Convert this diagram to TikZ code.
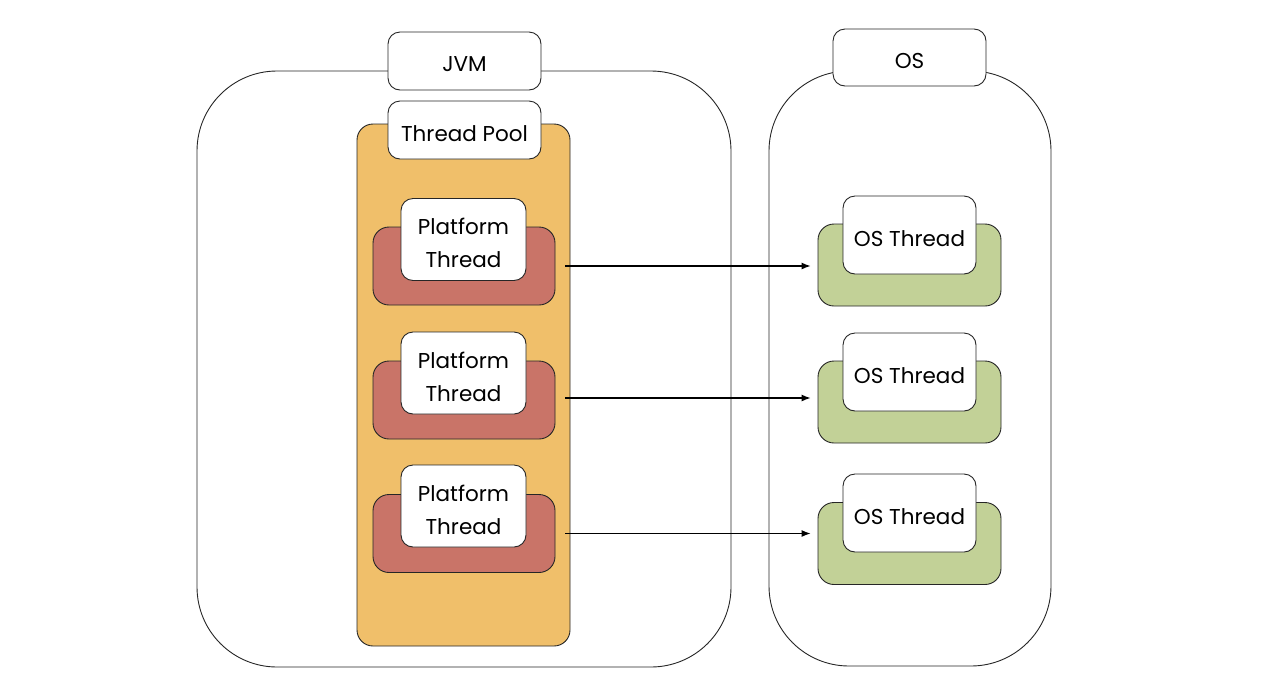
\documentclass[tikz,border=0pt]{standalone}
\usepackage{fontspec}
\setmainfont{Poppins}
\usetikzlibrary{arrows.meta}
\definecolor{poolc}{HTML}{F0BF6A}
\definecolor{redc}{HTML}{C97468}
\definecolor{greenc}{HTML}{C2D197}
\begin{document}
\begin{tikzpicture}[x=1pt,y=-1pt,
  base/.style={draw=black!85, line width=0.9pt, inner sep=0pt},
  bigbox/.style={base, fill=white, rounded corners=80pt},
  labelbox/.style={base, fill=white, rounded corners=12pt},
  poolbox/.style={base, fill=poolc, rounded corners=16pt},
  redbox/.style={base, fill=redc, rounded corners=16pt, minimum width=182pt, minimum height=78pt},
  greenbox/.style={base, fill=greenc, rounded corners=16pt, minimum width=183pt, minimum height=82pt},
  ptbox/.style={labelbox, minimum width=125pt, minimum height=82pt},
  osbox/.style={labelbox, minimum width=133pt, minimum height=78pt},
  txt/.style={inner sep=0pt, yshift=-3.5pt, font=\fontsize{21.5}{33}\selectfont, align=center},
  link/.style={draw=black, line width=1.1pt, -{Latex[length=9pt,width=7pt]}}
]
\useasboundingbox (0,0) rectangle (1280,689);
\node[bigbox, minimum width=534pt, minimum height=596pt] (jvm) at (464,369) {};
\node[bigbox, minimum width=282pt, minimum height=595pt] (os) at (910,368.5) {};
\node[labelbox, minimum width=153pt, minimum height=58pt] (jvmlabel) at (464.5,61) {};
\node[txt] (jvmtext) at (jvmlabel) {JVM};
\node[labelbox, minimum width=153pt, minimum height=57pt] (oslabel) at (909.5,57.5) {};
\node[txt] (ostext) at (oslabel) {OS};
\node[poolbox, minimum width=213pt, minimum height=522pt] (pool) at (463.5,385) {};
\node[labelbox, minimum width=153pt, minimum height=58pt] (poollabel) at (464.5,130) {};
\node[txt] (pooltext) at (poollabel) {Thread Pool};

\node[redbox] (r1) at (464,266) {};
\node[redbox] (r2) at (464,400) {};
\node[redbox] (r3) at (464,533.5) {};
\node[ptbox] (p1) at (463.5,239.5) {};
\node[ptbox] (p2) at (463.5,373) {};
\node[ptbox] (p3) at (463.5,506) {};
\node[txt] (p1t) at (p1) {Platform\\Thread};
\node[txt] (p2t) at (p2) {Platform\\Thread};
\node[txt] (p3t) at (p3) {Platform\\Thread};

\node[greenbox] (g1) at (909.5,265) {};
\node[greenbox] (g2) at (909.5,402) {};
\node[greenbox] (g3) at (909.5,543.5) {};
\node[osbox] (o1) at (909.5,235) {};
\node[osbox] (o2) at (909.5,372) {};
\node[osbox] (o3) at (909.5,513) {};
\node[txt] (o1t) at (o1) {OS Thread};
\node[txt] (o2t) at (o2) {OS Thread};
\node[txt] (o3t) at (o3) {OS Thread};

\draw[link, shorten <=10pt, shorten >=7pt] (r1.east) -- (r1.east -| g1.west);
\draw[link, shorten <=10pt, shorten >=7pt] ([yshift=2pt]r2.east) -- ([yshift=2pt]r2.east -| g2.west);
\draw[link, shorten <=10pt, shorten >=7pt] (r3.east) -- (r3.east -| g3.west);
\end{tikzpicture}
\end{document}
